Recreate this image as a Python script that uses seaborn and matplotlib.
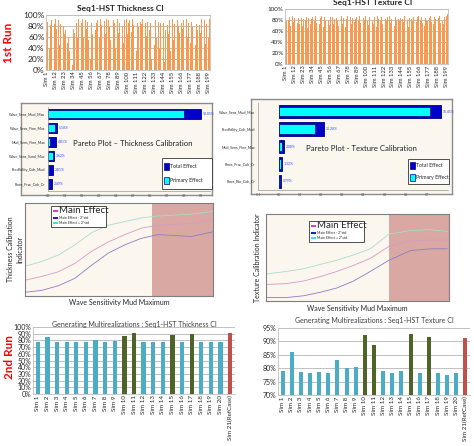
import numpy as np
import pandas as pd
import matplotlib
matplotlib.use("Agg")
import matplotlib.pyplot as plt
from matplotlib.patches import Rectangle
import seaborn as sns

sns.set_theme(style="white")
plt.rcParams['font.family'] = ['Lato', 'DejaVu Sans']

# ---------------- DATA ----------------
thick_run1 = [
    70,88,62,85,40,82,90,55,86,30,84,92,75,88,60,91,45,83,70,89,
    25,80,65,72,15,78,50,60,35,82,20,55,10,75,68,30,45,85,58,92,
    70,88,40,86,92,60,85,30,90,75,88,55,93,80,20,86,65,91,48,89,
    72,85,90,35,88,60,92,82,70,90,45,89,65,92,85,30,90,78,55,93,
    88,62,91,86,40,89,75,93,68,85,92,58,88,80,50,90,72,86,93,65,
    85,91,45,88,70,92,82,60,89,93,35,86,78,90,55,88,84,92,68,90,
    50,85,62,88,30,80,72,86,20,78,65,84,45,90,58,82,70,88,40,86,
    25,78,60,85,15,72,88,50,82,65,90,35,86,70,92,55,84,62,88,45,
    90,80,68,92,58,86,75,90,40,88,82,93,60,85,70,91,50,88,78,86,
    62,90,45,84,72,88,30,82,68,92,55,86,75,90,48,84,66,88,58,92]
tex_run1 = [
    82,78,85,74,80,86,70,83,79,87,76,84,68,81,88,75,83,72,86,79,
    84,70,82,88,74,80,85,66,83,78,87,73,81,86,69,84,79,88,75,82,
    78,85,72,83,87,76,81,68,86,79,84,74,88,80,71,85,77,83,86,73,
    81,87,75,84,79,70,86,82,76,88,73,83,80,85,67,82,87,78,84,75,
    86,72,83,79,88,76,82,85,70,84,78,87,74,81,86,66,83,80,88,77,
    84,79,71,86,82,75,88,80,73,85,78,83,68,87,81,76,84,79,86,72,
    83,88,76,82,79,85,70,84,87,74,81,86,78,83,69,85,80,88,75,82,
    79,84,72,86,81,77,88,83,74,85,80,67,84,87,76,82,79,86,73,84,
    81,76,85,88,72,83,79,86,75,82,87,70,84,80,78,85,74,83,88,77,
    85,80,73,86,82,78,84,68,83,87,75,81,86,79,72,85,83,80,88,90]
sims_run1 = [f"Sim {i}" for i in range(1, 201)]

par_thick_labels = ["Wave_Sens_Mud_Max", "Wave_Sens_Fine_Max", "Mud_Sens_Fine_Max",
                    "Wave_Sens_Sand_Max", "Erodibility_Coh_Mud", "Fines_Frac_Coh_Cr"]
par_thick_total = [0.90, 0.052, 0.048, 0.036, 0.028, 0.025]
par_thick_primary = [0.80, 0.040, 0.010, 0.030, 0.006, 0.005]
par_thick_text = ["90.85%", "5.18%", "4.81%", "3.62%", "2.81%", "2.49%"]

par_tex_labels = ["Wave_Sens_Mud_Max", "Erodibility_Coh_Mud", "Mud_Sens_Fine_Max",
                  "Fines_Frac_Coh_Cr", "Fines_Bio_Coh_Cr"]
par_tex_total = [0.765, 0.213, 0.021, 0.013, 0.008]
par_tex_primary = [0.715, 0.170, 0.015, 0.010, 0.006]
par_tex_text = ["76.45%", "21.28%", "2.08%", "1.32%", "0.79%"]

me_thick_x = [0, .088, .177, .265, .354, .442, .531, .619, .708, .796, .885, 1.0]
me_thick_plus = [32, 37, 44, 55, 68, 76, 80, 84, 86, 87, 88, 91]
me_thick_main = [17, 21, 26, 35, 48, 58, 66, 73, 76, 77, 78, 82]
me_thick_minus = [4, 6, 11, 19, 33, 46, 55, 62, 66, 65, 64, 69]

me_tex_x = [0, .113, .205, .296, .388, .479, .570, .673, .790, .900, .991]
me_tex_plus = [31, 34, 37, 42, 47, 53, 60, 77, 81, 82, 80]
me_tex_main = [19, 20, 23, 28, 34, 41, 49, 63, 69, 70, 70]
me_tex_minus = [4, 4, 6, 10, 15, 23, 34, 47, 58, 60, 60]

sims_run2 = [f"Sim {i}" for i in range(1, 21)] + ["Sim 21(RefCase)"]
thick_run2 = [77.5, 85, 77.5, 77.5, 77.5, 77.5, 80, 77.5, 78.5, 86, 91.5, 77.5, 77.5, 77.5, 88, 77.5, 89, 77.5, 77.5, 77.5, 90.5]
tex_run2 = [78.8, 86.2, 78.6, 78.1, 78.4, 78.1, 83.1, 80.0, 80.4, 92.5, 88.7, 78.9, 78.1, 78.9, 92.7, 78.1, 91.6, 78.1, 77.5, 78.1, 91.2]
group_run2 = ["base"] * 9 + ["best", "best", "base", "base", "base", "best", "base", "best", "base", "base", "base", "ref"]

# ---------------- STYLE ----------------
W, H = 474, 446
ORANGE = "#F59A50"
BLUE_BAR = "#4BACC6"
OLIVE = "#4F6228"
RED_BAR = "#C0504D"
CREAM = "#FBF6EE"
SHADE = "#D9A8A2"
GRID = "#A6A6A6"

fig = plt.figure(figsize=(W / 100, H / 100), dpi=100)
fig.patch.set_facecolor("white")


def ax_px(x0, y0, x1, y1, **kw):
    return fig.add_axes([x0 / W, 1 - y1 / H, (x1 - x0) / W, (y1 - y0) / H], **kw)


def style_bar_axes(ax):
    for s in ax.spines.values():
        s.set_color("#BFBFBF")
        s.set_linewidth(0.6)
    ax.yaxis.grid(True, color=GRID, lw=0.5)
    ax.set_axisbelow(True)
    ax.tick_params(axis="both", length=0, pad=1)
    ax.set_xlabel("")
    ax.set_ylabel("")


# ---------- Panel 1: 1st run thickness ----------
ax1 = ax_px(46, 15, 210, 70)
df1 = pd.DataFrame({"sim": sims_run1, "ci": thick_run1})
sns.barplot(data=df1, x="sim", y="ci", color=ORANGE, width=0.7, linewidth=0, saturation=1, ax=ax1)
ax1.set_ylim(0, 100)
ax1.set_xlim(-0.5, 199.5)
ax1.set_yticks(range(0, 101, 20))
ax1.set_yticklabels([f"{v}%" for v in range(0, 101, 20)], fontsize=6)
ticks1 = list(range(0, 200, 11))
ax1.set_xticks(ticks1)
ax1.set_xticklabels([sims_run1[i] for i in ticks1], rotation=90, fontsize=4.2)
style_bar_axes(ax1)
fig.text(120 / W, 1 - 9 / H, "Seq1-HST Thickness CI", ha="center", va="center", fontsize=6, fontweight="bold")
fig.text(9 / W, 1 - 43 / H, "1st Run", ha="center", va="center", rotation=90, fontsize=8.5,
         fontweight="bold", color="#FF0000")

# ---------- Panel 2: 1st run texture ----------
ax2 = ax_px(285, 9, 448, 64)
df2 = pd.DataFrame({"sim": sims_run1, "ci": tex_run1})
sns.barplot(data=df2, x="sim", y="ci", color=ORANGE, width=0.7, linewidth=0, saturation=1, ax=ax2)
ax2.set_ylim(0, 100)
ax2.set_xlim(-0.5, 199.5)
ax2.set_yticks(range(0, 101, 20))
ax2.set_yticklabels([f"{v}%" for v in range(0, 101, 20)], fontsize=4.5)
ax2.set_xticks(ticks1)
ax2.set_xticklabels([sims_run1[i] for i in ticks1], rotation=90, fontsize=4.2)
style_bar_axes(ax2)
fig.text(373 / W, 1 - 3 / H, "Seq1-HST Texture CI", ha="center", va="center", fontsize=6, fontweight="bold")


# ---------- Pareto panels ----------
def pareto(frame, plot, labels, total, primary, texts, xlim, title, title_xy, leg):
    bg = ax_px(*frame)
    bg.set_facecolor(CREAM)
    bg.set_xticks([]); bg.set_yticks([])
    for s in bg.spines.values():
        s.set_color("#8C8C8C"); s.set_linewidth(1.0)
    ax = ax_px(*plot)
    ax.patch.set_alpha(0)
    dft = pd.DataFrame({"f": labels, "v": total})
    dfp = pd.DataFrame({"f": labels, "v": primary})
    sns.barplot(data=dft, x="v", y="f", orient="h", color="#0000CC", width=0.78,
                edgecolor="#000080", linewidth=0.6, saturation=1, ax=ax)
    sns.barplot(data=dfp, x="v", y="f", orient="h", color="#00FFFF", width=0.55,
                edgecolor="#000080", linewidth=0.5, saturation=1, ax=ax)
    for i, (v, t) in enumerate(zip(total, texts)):
        ax.text(v + 0.01, i, t, fontsize=2.5, color="#3050FF", va="center")
    ax.set_xlim(*xlim)
    ax.set_xlabel(""); ax.set_ylabel("")
    ax.tick_params(axis="y", labelsize=2.6, length=0, pad=2)
    ax.tick_params(axis="x", labelsize=2.2, length=1.5, width=0.4, pad=1, colors="#555555")
    ax.set_xticks(np.arange(round(xlim[0], 1), xlim[1], 0.1))
    ax.set_xticklabels([f"{t:.1f}" for t in np.arange(round(xlim[0], 1), xlim[1], 0.1)])
    for k in ["top", "right"]:
        ax.spines[k].set_visible(False)
    for k in ["left", "bottom"]:
        ax.spines[k].set_color("#999999"); ax.spines[k].set_linewidth(0.5)
    fig.text(title_xy[0] / W, 1 - title_xy[1] / H, title, ha="center", va="center", fontsize=5.6, color="#222222")
    lx0, ly0, lx1, ly1 = leg
    fig.patches.append(Rectangle((lx0 / W, 1 - ly1 / H), (lx1 - lx0) / W, (ly1 - ly0) / H,
                                 transform=fig.transFigure, facecolor="white", edgecolor="#333333", lw=0.6))
    hh = (ly1 - ly0)
    for j, (c, name) in enumerate([("#0000CC", "Total Effect"), ("#00FFFF", "Primary Effect")]):
        yy = ly0 + hh * (0.27 + 0.46 * j)
        fig.patches.append(Rectangle(((lx0 + 2) / W, 1 - (yy + 3.5) / H), 5 / W, 7 / H,
                                     transform=fig.transFigure, facecolor=c, edgecolor="#000080", lw=0.5))
        fig.text((lx0 + 8) / W, 1 - yy / H, name, fontsize=3.8, va="center", ha="left")
    return ax


pareto((21, 103, 212, 195), (48, 107, 210, 191), par_thick_labels, par_thick_total, par_thick_primary,
       par_thick_text, (0, 0.95), "Pareto Plot \u2013 Thickness Calibration", (133, 144), (162, 158, 212, 189))
pareto((251, 99, 452, 194), (258, 103, 448, 190), par_tex_labels, par_tex_total, par_tex_primary,
       par_tex_text, (-0.1, 0.8), "Pareto Plot - Texture Calibration", (361, 148), (408, 159, 449, 184))


# ---------- Main effect panels ----------
def main_effect(rect, xs, plus, main, minus, ylabel, ylabel_x, xlabel_y, leg_xy):
    ax = ax_px(*rect)
    ax.set_facecolor(CREAM)
    ax.axvspan(0.673, 1.0, color=SHADE, lw=0)
    dfm = pd.DataFrame({"x": xs * 3, "y": plus + main + minus,
                        "s": ["plus"] * len(xs) + ["main"] * len(xs) + ["minus"] * len(xs)})
    sns.lineplot(data=dfm, x="x", y="y", hue="s",
                 palette={"plus": "#A8DCCC", "main": "#D89AC8", "minus": "#8C7CC4"},
                 lw=0.6, legend=False, ax=ax)
    ax.set_xlim(0, 1)
    ax.set_ylim(0, 100)
    ax.set_xticks(np.linspace(0, 1, 23))
    ax.set_yticks(np.linspace(0, 100, 8))
    ax.set_xticklabels([]); ax.set_yticklabels([])
    ax.tick_params(axis="both", length=1.5, width=0.4, colors="#888888", direction="in")
    ax.set_xlabel(""); ax.set_ylabel("")
    for s in ax.spines.values():
        s.set_color("#7F7F7F"); s.set_linewidth(0.8)
    cx = (rect[0] + rect[2]) / 2
    fig.text(cx / W, 1 - xlabel_y / H, "Wave Sensitivity Mud Maximum", ha="center", va="center", fontsize=5)
    fig.text(ylabel_x / W, 1 - ((rect[1] + rect[3]) / 2) / H, ylabel, ha="center", va="center",
             rotation=90, fontsize=5, linespacing=1.3)
    lx, ly = leg_xy
    fig.patches.append(Rectangle((lx / W, 1 - (ly + 21) / H), 55 / W, 21 / H, transform=fig.transFigure,
                                 facecolor="white", edgecolor="#333333", lw=0.6))
    fig.patches.append(Rectangle(((lx + 2) / W, 1 - (ly + 6) / H), 5 / W, 2 / H, transform=fig.transFigure,
                                 facecolor="#E040C0", lw=0))
    fig.text((lx + 8) / W, 1 - (ly + 5) / H, "Main Effect", fontsize=7, va="center")
    for j, (c, t) in enumerate([("#2020C0", "Main Effect - 2*std"), ("#40E0E0", "Main Effect + 2*std")]):
        yy = ly + 12 + 5 * j
        fig.patches.append(Rectangle(((lx + 2) / W, 1 - (yy + 1) / H), 5 / W, 2 / H,
                                     transform=fig.transFigure, facecolor=c, lw=0))
        fig.text((lx + 8) / W, 1 - yy / H, t, fontsize=2.5, va="center")
    return ax


main_effect((25, 203, 213, 296), me_thick_x, me_thick_plus, me_thick_main, me_thick_minus,
            "Thickness Calibration\nIndicator", 15, 303, (51, 206))
main_effect((266, 214, 449, 301), me_tex_x, me_tex_plus, me_tex_main, me_tex_minus,
            "Texture Calibration Indicator", 257, 309, (309, 221))


# ---------- 2nd run bar charts ----------
pal = {"base": BLUE_BAR, "best": OLIVE, "ref": RED_BAR}


def run2(rect, vals, ylim, step, title, title_y):
    ax = ax_px(*rect)
    df = pd.DataFrame({"sim": sims_run2, "ci": vals, "g": group_run2})
    sns.barplot(data=df, x="sim", y="ci", hue="g", palette=pal, dodge=False, width=0.45,
                linewidth=0, saturation=1, legend=False, ax=ax)
    ax.set_ylim(*ylim)
    ticks = list(range(ylim[0], ylim[1] + 1, step))
    ax.set_yticks(ticks)
    ax.set_yticklabels([f"{t}%" for t in ticks], fontsize=5)
    ax.set_xticks(range(len(sims_run2)))
    ax.set_xticklabels(sims_run2, rotation=90, fontsize=4.5)
    style_bar_axes(ax)
    ax.spines["top"].set_visible(False)
    ax.spines["right"].set_visible(False)
    cx = (rect[0] + rect[2]) / 2
    fig.text(cx / W, 1 - title_y / H, title, ha="center", va="center", fontsize=5, color="#404040")
    return ax


run2((33, 327, 235, 394), thick_run2, (0, 100), 10,
     "Generating Multirealizations : Seq1-HST Thickness CI", 324)
run2((278, 328, 470, 395), tex_run2, (70, 95), 5,
     "Generating Multirealizations : Seq1-HST Texture CI", 321)
fig.text(10 / W, 1 - 357 / H, "2nd Run", ha="center", va="center", rotation=90, fontsize=8.5,
         fontweight="bold", color="#FF0000")

fig.savefig("out.png", dpi=100)
